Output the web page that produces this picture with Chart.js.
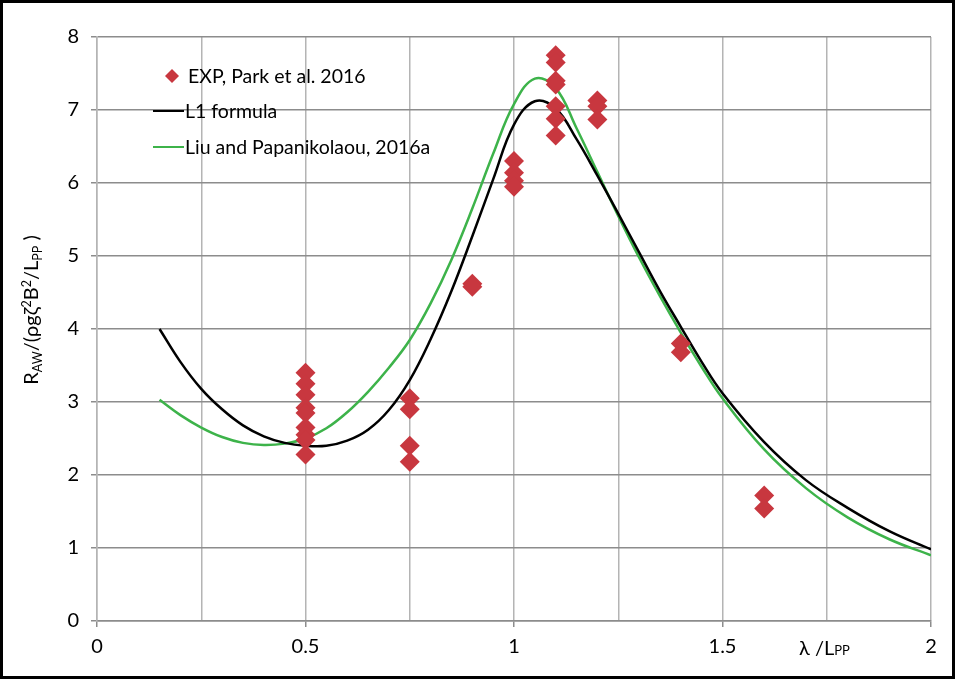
<!DOCTYPE html>
<html>
<head>
<meta charset="utf-8">
<script src="https://cdn.jsdelivr.net/npm/chart.js@4"></script>
<style>
  body { margin: 0; background: #fff; }
  canvas { display: block; }
</style>
</head>
<body>
<canvas id="myChart" width="955" height="679"></canvas>
<script>
// measured points (Park et al. 2016)
const expX = [0.5, 0.5, 0.5, 0.5, 0.5, 0.5, 0.5, 0.5, 0.5,
              0.75, 0.75, 0.75, 0.75,
              0.9, 0.9,
              1.0, 1.0, 1.0, 1.0,
              1.1, 1.1, 1.1, 1.1, 1.1, 1.1, 1.1,
              1.2, 1.2, 1.2,
              1.4, 1.4,
              1.6, 1.6];
const expY = [3.4, 3.25, 3.1, 2.92, 2.85, 2.65, 2.55, 2.48, 2.28,
              3.05, 2.9, 2.4, 2.18,
              4.62, 4.58,
              6.3, 6.14, 6.03, 5.95,
              7.75, 7.65, 7.4, 7.35, 7.05, 6.88, 6.65,
              7.13, 7.05, 6.87,
              3.8, 3.68,
              1.72, 1.54];

// L1 formula curve
const l1X = [0.15, 0.2, 0.25, 0.3, 0.35, 0.4, 0.45, 0.5, 0.55, 0.6, 0.65, 0.7, 0.75, 0.8, 0.85, 0.9, 0.95,
             1.0, 1.05, 1.1, 1.15, 1.2, 1.25, 1.3, 1.35, 1.4, 1.45, 1.5, 1.6, 1.7, 1.8, 1.9, 2.0];
const l1Y = [4.0, 3.55, 3.18, 2.9, 2.68, 2.53, 2.44, 2.4, 2.4, 2.47, 2.62, 2.89, 3.3, 3.86, 4.52, 5.27, 6.05,
             6.8, 7.12, 7.02, 6.6, 6.1, 5.58, 5.05, 4.52, 4.03, 3.55, 3.12, 2.45, 1.93, 1.55, 1.23, 0.98];

// Liu and Papanikolaou, 2016a
const liuX = [0.15, 0.2, 0.25, 0.3, 0.35, 0.4, 0.45, 0.5, 0.55, 0.6, 0.65, 0.7, 0.75, 0.8, 0.85, 0.9, 0.95,
              1.0, 1.05, 1.1, 1.15, 1.2, 1.25, 1.3, 1.35, 1.4, 1.45, 1.5, 1.6, 1.7, 1.8, 1.9, 2.0];
const liuY = [3.03, 2.82, 2.65, 2.52, 2.44, 2.41, 2.43, 2.5, 2.64, 2.86, 3.14, 3.47, 3.85, 4.35, 4.95, 5.65, 6.4,
              7.08, 7.43, 7.3, 6.75, 6.15, 5.55, 4.98, 4.45, 3.95, 3.48, 3.05, 2.35, 1.82, 1.42, 1.12, 0.9];

const xLabels = ['0', '0.5', '1', '1.5', '2'];

const FONT = 'Lato, "Open Sans", sans-serif';
const RED = '#C8373F';
const GREEN = '#3DB34A';

function pts(xs, ys) {
    return xs.map((x, i) => ({x: x, y: ys[i]}));
}

function isMajor(v) {
    return Math.abs(v * 2 - Math.round(v * 2)) < 1e-6;
}

// draw a string made of pieces with sub/superscripts
function drawRich(ctx, parts, x, y) {
    let cx = x;
    parts.forEach(p => {
        ctx.font = p.size + 'px ' + FONT;
        ctx.fillText(p.t, cx, y + (p.dy || 0));
        cx += ctx.measureText(p.t).width;
    });
    return cx - x;
}

function richWidth(ctx, parts) {
    let w = 0;
    parts.forEach(p => {
        ctx.font = p.size + 'px ' + FONT;
        w += ctx.measureText(p.t).width;
    });
    return w;
}

const decor = {
    id: 'decor',
    beforeDraw(chart) {
        const ctx = chart.ctx;
        ctx.save();
        ctx.fillStyle = '#fff';
        ctx.fillRect(0, 0, chart.width, chart.height);
        ctx.restore();
    },
    afterDraw(chart) {
        const ctx = chart.ctx;
        ctx.save();
        ctx.fillStyle = '#000';
        ctx.textBaseline = 'alphabetic';

        // y axis title
        const yParts = [
            {t: 'R', size: 20}, {t: 'AW', size: 12.5, dy: 4}, {t: '/(\u03C1g\u03B6', size: 20},
            {t: '2', size: 12.5, dy: -7}, {t: 'B', size: 20}, {t: '2', size: 12.5, dy: -7},
            {t: '/L', size: 20}, {t: 'PP', size: 12.5, dy: 4}, {t: ' )', size: 20}
        ];
        const w = richWidth(ctx, yParts);
        ctx.save();
        ctx.translate(38, 310);
        ctx.rotate(-Math.PI / 2);
        drawRich(ctx, yParts, -w / 2, 0);
        ctx.restore();

        // x axis title
        drawRich(ctx, [{t: '\u03BB /L', size: 20}, {t: 'PP', size: 13}], 799, 655);

        // legend
        ctx.fillStyle = RED;
        ctx.beginPath();
        ctx.moveTo(172, 69); ctx.lineTo(179, 76); ctx.lineTo(172, 83); ctx.lineTo(165, 76);
        ctx.closePath();
        ctx.fill();
        ctx.lineWidth = 2;
        ctx.strokeStyle = '#000';
        ctx.beginPath(); ctx.moveTo(153, 111); ctx.lineTo(184, 111); ctx.stroke();
        ctx.strokeStyle = GREEN;
        ctx.beginPath(); ctx.moveTo(153, 147); ctx.lineTo(184, 147); ctx.stroke();
        ctx.fillStyle = '#000';
        ctx.font = '19.5px ' + FONT;
        ctx.fillText('EXP, Park et al. 2016', 188, 83);
        ctx.fillText('L1 formula', 185, 118);
        ctx.fillText('Liu and Papanikolaou, 2016a', 185, 154);

        // frame around the picture
        ctx.strokeStyle = '#000';
        ctx.lineWidth = 3;
        ctx.strokeRect(1.5, 1.5, chart.width - 3, chart.height - 3);
        ctx.restore();
    }
};

const ctx = document.getElementById('myChart').getContext('2d');
const myChart = new Chart(ctx, {
    type: 'scatter',
    data: {
        datasets: [{
            label: 'EXP, Park et al. 2016',
            data: pts(expX, expY),
            pointStyle: 'rectRot',
            pointRadius: 10,
            backgroundColor: RED,
            borderColor: RED,
            borderWidth: 0,
            order: 0
        }, {
            label: 'L1 formula',
            data: pts(l1X, l1Y),
            showLine: true,
            pointRadius: 0,
            borderColor: '#000',
            borderWidth: 2.5,
            tension: 0.4,
            order: 1
        }, {
            label: 'Liu and Papanikolaou, 2016a',
            data: pts(liuX, liuY),
            showLine: true,
            pointRadius: 0,
            borderColor: GREEN,
            borderWidth: 2.5,
            tension: 0.4,
            order: 2
        }]
    },
    options: {
        responsive: false,
        animation: false,
        layout: { padding: { top: 37, right: 24, left: 0, bottom: 0 } },
        plugins: {
            legend: { display: false },
            tooltip: { enabled: false }
        },
        scales: {
            x: {
                min: 0,
                max: 2,
                afterFit: s => { s.height = 58; },
                ticks: {
                    stepSize: 0.25,
                    autoSkip: false,
                    maxRotation: 0,
                    padding: 8,
                    color: '#000',
                    font: { family: FONT, size: 20 },
                    callback: v => isMajor(v) ? xLabels[Math.round(v * 2)] : ''
                },
                grid: {
                    color: '#b4b4b4',
                    lineWidth: 1.5,
                    tickLength: 6,
                    tickColor: c => (c.tick && isMajor(c.tick.value)) ? '#8c8c8c' : 'rgba(0,0,0,0)'
                },
                border: { color: '#8c8c8c', width: 1.5 }
            },
            y: {
                min: 0,
                max: 8,
                afterFit: s => { s.width = 97; },
                ticks: {
                    stepSize: 1,
                    padding: 12,
                    color: '#000',
                    font: { family: FONT, size: 20 }
                },
                grid: {
                    color: '#8c8c8c',
                    lineWidth: 1.5,
                    tickLength: 6
                },
                border: { color: '#b4b4b4', width: 1.5 }
            }
        }
    },
    plugins: [decor]
});
</script>
</body>
</html>
